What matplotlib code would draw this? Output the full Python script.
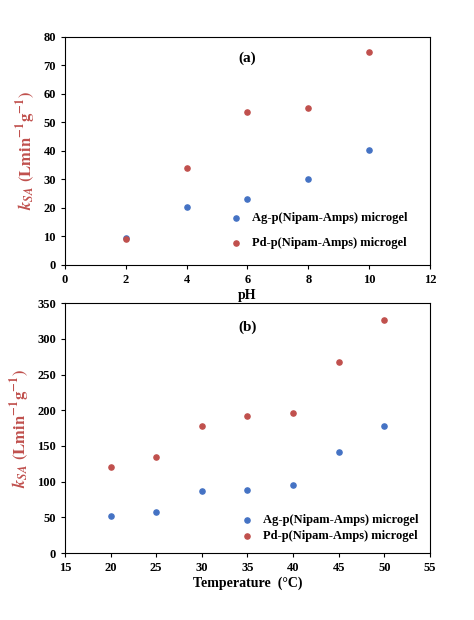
import matplotlib
matplotlib.use("Agg")
import matplotlib.pyplot as plt

plt.rcParams['font.family'] = ['Liberation Serif', 'DejaVu Serif']
plt.rcParams['font.weight'] = 'bold'
plt.rcParams['mathtext.fontset'] = 'stix'

ph = [2, 4, 6, 8, 10]
ag_ph = [9.5, 20.3, 23.2, 30.2, 40.4]
pd_ph = [9.2, 34.0, 53.5, 54.8, 74.6]

temp = [20, 25, 30, 35, 40, 45, 50]
ag_t = [52, 58, 87, 89, 96, 142, 178]
pd_t = [120, 135, 178, 192, 196, 268, 327]

blue = '#4472C4'
red = '#C0504D'

ylab = r'$\mathbfit{k}_{\mathbfit{SA}}\ \mathbf{(Lmin^{-1}g^{-1})}$'

fig = plt.figure(figsize=(4.74, 6.2), dpi=100)
ax1 = fig.add_axes([0.137, 0.573, 0.77, 0.368])
ax2 = fig.add_axes([0.137, 0.108, 0.77, 0.403])

def style(ax):
    ax.tick_params(labelsize=9, direction='out', length=3)
    ax.set_ylabel(ylab, color=red, fontsize=12)

ax1.scatter(ph, ag_ph, s=14, color=blue, label='Ag-p(Nipam-Amps) microgel', zorder=3)
ax1.scatter(ph, pd_ph, s=14, color=red, label='Pd-p(Nipam-Amps) microgel', zorder=3)
ax1.set_xlim(0, 12)
ax1.set_ylim(0, 80)
ax1.set_xticks(range(0, 13, 2))
ax1.set_yticks(range(0, 81, 10))
ax1.set_xlabel('pH', fontsize=10, fontweight='bold', labelpad=2)
ax1.text(0.5, 0.89, '(a)', transform=ax1.transAxes, ha='center', fontsize=11, fontweight='bold')
ax1.legend(loc='lower right', bbox_to_anchor=(0.97, 0.02), frameon=False, fontsize=9,
           handletextpad=0.3, labelspacing=1.0)
style(ax1)

ax2.scatter(temp, ag_t, s=14, color=blue, label='Ag-p(Nipam-Amps) microgel', zorder=3)
ax2.scatter(temp, pd_t, s=14, color=red, label='Pd-p(Nipam-Amps) microgel', zorder=3)
ax2.set_xlim(15, 55)
ax2.set_ylim(0, 350)
ax2.set_xticks(range(15, 56, 5))
ax2.set_yticks(range(0, 351, 50))
ax2.set_xlabel('Temperature  (\u00b0C)', fontsize=10, fontweight='bold', labelpad=2)
ax2.text(0.5, 0.89, '(b)', transform=ax2.transAxes, ha='center', fontsize=11, fontweight='bold')
ax2.legend(loc='lower right', bbox_to_anchor=(1.0, 0.0), frameon=False, fontsize=9,
           handletextpad=0.3, labelspacing=0.3)
style(ax2)

fig.savefig('out.png', dpi=100)
